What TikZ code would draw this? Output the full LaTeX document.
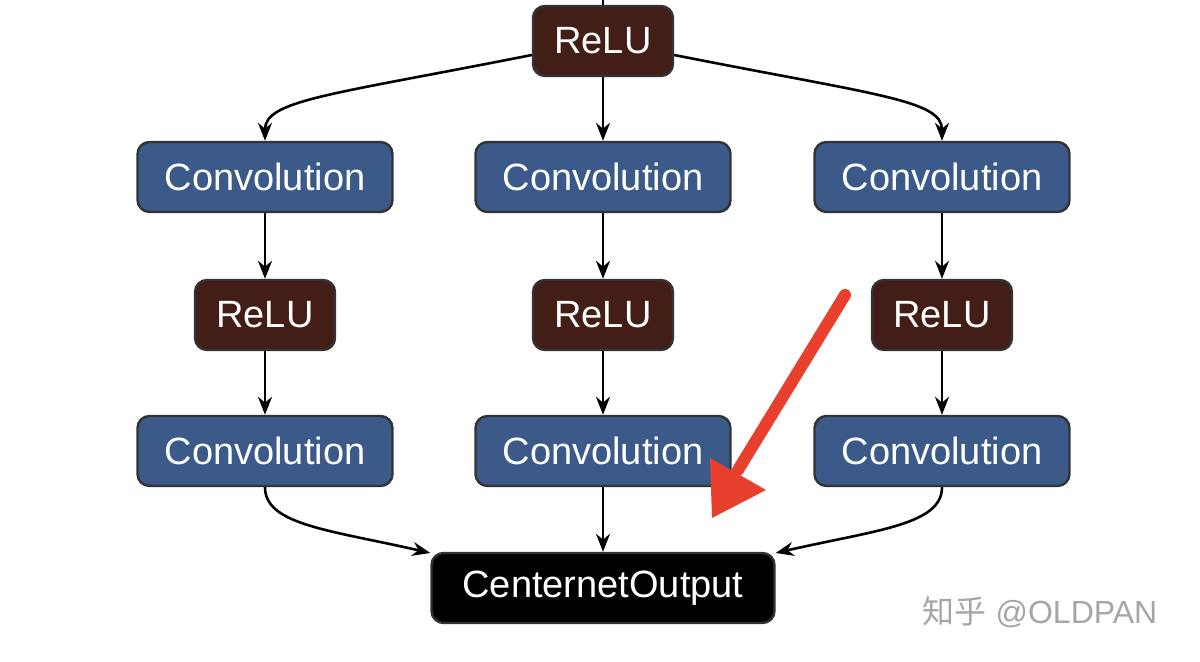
\documentclass[tikz,border=0pt]{standalone}
\usepackage{fontspec}
\setmainfont{Liberation Sans}
\newfontfamily\cjk{Noto Sans CJK SC}
\usetikzlibrary{arrows.meta}
\definecolor{convblue}{HTML}{3B5A8A}
\definecolor{relubrown}{HTML}{421E17}
\definecolor{redarrow}{HTML}{E8402C}
\begin{document}
\begin{tikzpicture}[x=0.5pt,y=-0.5pt,
  box/.style={draw=black!80,line width=1.2pt,rounded corners=6pt,text=white,font=\fontsize{19}{22}\selectfont,inner sep=0pt,anchor=center},
  conv/.style={box,fill=convblue,minimum width=127.5pt,minimum height=35pt},
  relu/.style={box,fill=relubrown,minimum width=70pt,minimum height=35pt},
  outp/.style={box,fill=black,minimum width=171.5pt,minimum height=35pt},
  edge/.style={-{Stealth[length=9pt,width=7pt]},line width=1.3pt,black}]
\useasboundingbox (0,0) rectangle (1200,662);
\node[relu] (r0) at (603,41) {ReLU};
\coordinate (top) at (603,0);
\foreach \n/\x in {a/265,b/603,c/942}{
  \node[conv] (c1\n) at (\x,177) {Convolution};
  \node[relu] (r\n) at (\x,315) {ReLU};
  \node[conv] (c2\n) at (\x,451) {Convolution};
  \draw[edge] (c1\n) -- (r\n);
  \draw[edge] (r\n) -- (c2\n);
}
\node[outp] (out) at (603,588) {CenternetOutput};
\draw[line width=1.3pt] (top) -- (r0.north);
\draw[edge] (r0.west|-0,55) .. controls (330,95) and (265,100) .. (c1a.north);
\draw[edge] (r0.east|-0,55) .. controls (876,95) and (942,100) .. (c1c.north);
\draw[edge] (r0) -- (c1b);
\draw[edge] (c2a.south) .. controls (265,525) and (330,530) .. (out.west|-0,553);
\draw[edge] (c2c.south) .. controls (942,525) and (876,530) .. (out.east|-0,553);
\draw[edge] (c2b) -- (out);
% red arrow
\coordinate (ra) at (845,295);
\coordinate (rt) at (712,518);
\draw[redarrow,line width=6pt,line cap=round] (ra) -- (738,470);
\fill[redarrow] (rt) -- (710,458) -- (766,490) -- cycle;
\node[text=black!35,font=\fontsize{16}{18}\selectfont] (wm) at (1040,612) {{\cjk 知乎} @OLDPAN};
\end{tikzpicture}
\end{document}
